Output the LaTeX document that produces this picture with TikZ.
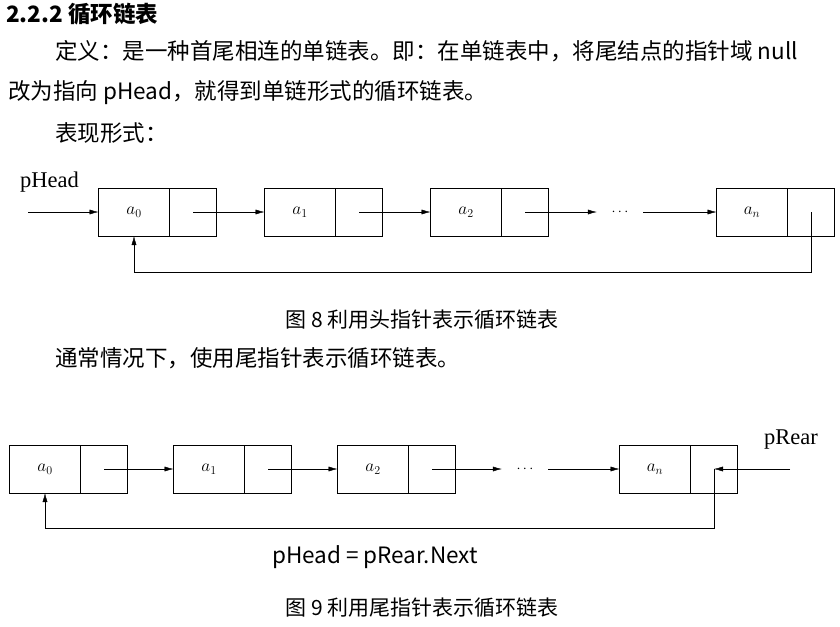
\documentclass[tikz,border=0pt]{standalone}
\usepackage{fontspec}
\setmainfont{Liberation Serif}
\newfontfamily\cjk{Noto Sans CJK SC}
\usetikzlibrary{positioning, arrows.meta}

\begin{document}
\begin{tikzpicture}[x=1pt, y=-1pt,
    txt/.style={anchor=west, inner sep=0pt, font=\fontsize{22.5}{26}\selectfont\cjk},
    dat/.style={rectangle, draw, minimum width=71pt, minimum height=48pt, inner sep=0pt, outer sep=0pt, font=\fontsize{18}{20}\selectfont},
    ptr/.style={rectangle, draw, minimum width=47pt, minimum height=48pt, inner sep=0pt, outer sep=0pt},
    lnk/.style={-{Latex[length=9pt, width=5pt]}, thin},
    ]
   \useasboundingbox (0,0) rectangle (840,626);

   % Text lines.
   \node[txt, font=\fontsize{22.5}{26}\selectfont\cjk\bfseries] (title) at (6,14) {2.2.2 循环链表};
   \node[txt] (def1) at (55,51) {定义：是一种首尾相连的单链表。即：在单链表中，将尾结点的指针域 null};
   \node[txt] (def2) at (8,93) {改为指向 pHead，就得到单链形式的循环链表。};
   \node[txt] (form) at (55,133) {表现形式：};

   % Head pointer list.
   \node[dat] (d0) at (134,212) {$a_0$};
   \node[ptr, right=0pt of d0] (p0) {};
   \node[dat] (d1) at (300,212) {$a_1$};
   \node[ptr, right=0pt of d1] (p1) {};
   \node[dat] (d2) at (466,212) {$a_2$};
   \node[ptr, right=0pt of d2] (p2) {};
   \node[dat] (d3) at (752,212) {$a_n$};
   \node[ptr, right=0pt of d3] (p3) {};
   \node[minimum width=46pt, inner sep=0pt, font=\Large] (dots_a) at (620,212) {$\cdots$};
   \node[anchor=south west, inner sep=0pt, font=\fontsize{22.5}{26}\selectfont] (head) at (20,192) {pHead};
   \coordinate (head_in) at (28,212);

   \draw[lnk] (head_in) -- (d0);
   \draw[lnk] (p0.center) -- (d1);
   \draw[lnk] (p1.center) -- (d2);
   \draw[lnk] (p2.center) -- (dots_a.west);
   \draw[lnk] (dots_a.east) -- (d3);
   \draw[lnk] (p3.center) -- ++(0,60) -| (d0.south);

   \node[font=\fontsize{21}{24}\selectfont\cjk] (cap8) at (422,320) {图 8 利用头指针表示循环链表};
   \node[txt] (usual) at (55,358) {通常情况下，使用尾指针表示循环链表。};

   % Rear pointer list.
   \node[dat] (e0) at (45,469) {$a_0$};
   \node[ptr, right=0pt of e0] (q0) {};
   \node[dat] (e1) at (209,469) {$a_1$};
   \node[ptr, right=0pt of e1] (q1) {};
   \node[dat] (e2) at (373,469) {$a_2$};
   \node[ptr, right=0pt of e2] (q2) {};
   \node[dat] (e3) at (655,469) {$a_n$};
   \node[ptr, right=0pt of e3] (q3) {};
   \node[minimum width=46pt, inner sep=0pt, font=\Large] (dots_b) at (525,469) {$\cdots$};
   \node[anchor=south west, inner sep=0pt, font=\fontsize{22.5}{26}\selectfont] (rear) at (764,449) {pRear};
   \coordinate (rear_in) at (790,469);

   \draw[lnk] (q0.center) -- (e1);
   \draw[lnk] (q1.center) -- (e2);
   \draw[lnk] (q2.center) -- (dots_b.west);
   \draw[lnk] (dots_b.east) -- (e3);
   \draw[lnk] (rear_in) -- (q3.center);
   \draw[lnk] (q3.center) -- ++(0,59) -| (e0.south);

   \node[font=\fontsize{22.5}{26}\selectfont\cjk] (next) at (375,557) {pHead = pRear.Next};
   \node[font=\fontsize{21}{24}\selectfont\cjk] (cap9) at (422,608) {图 9 利用尾指针表示循环链表};
\end{tikzpicture}
\end{document}
